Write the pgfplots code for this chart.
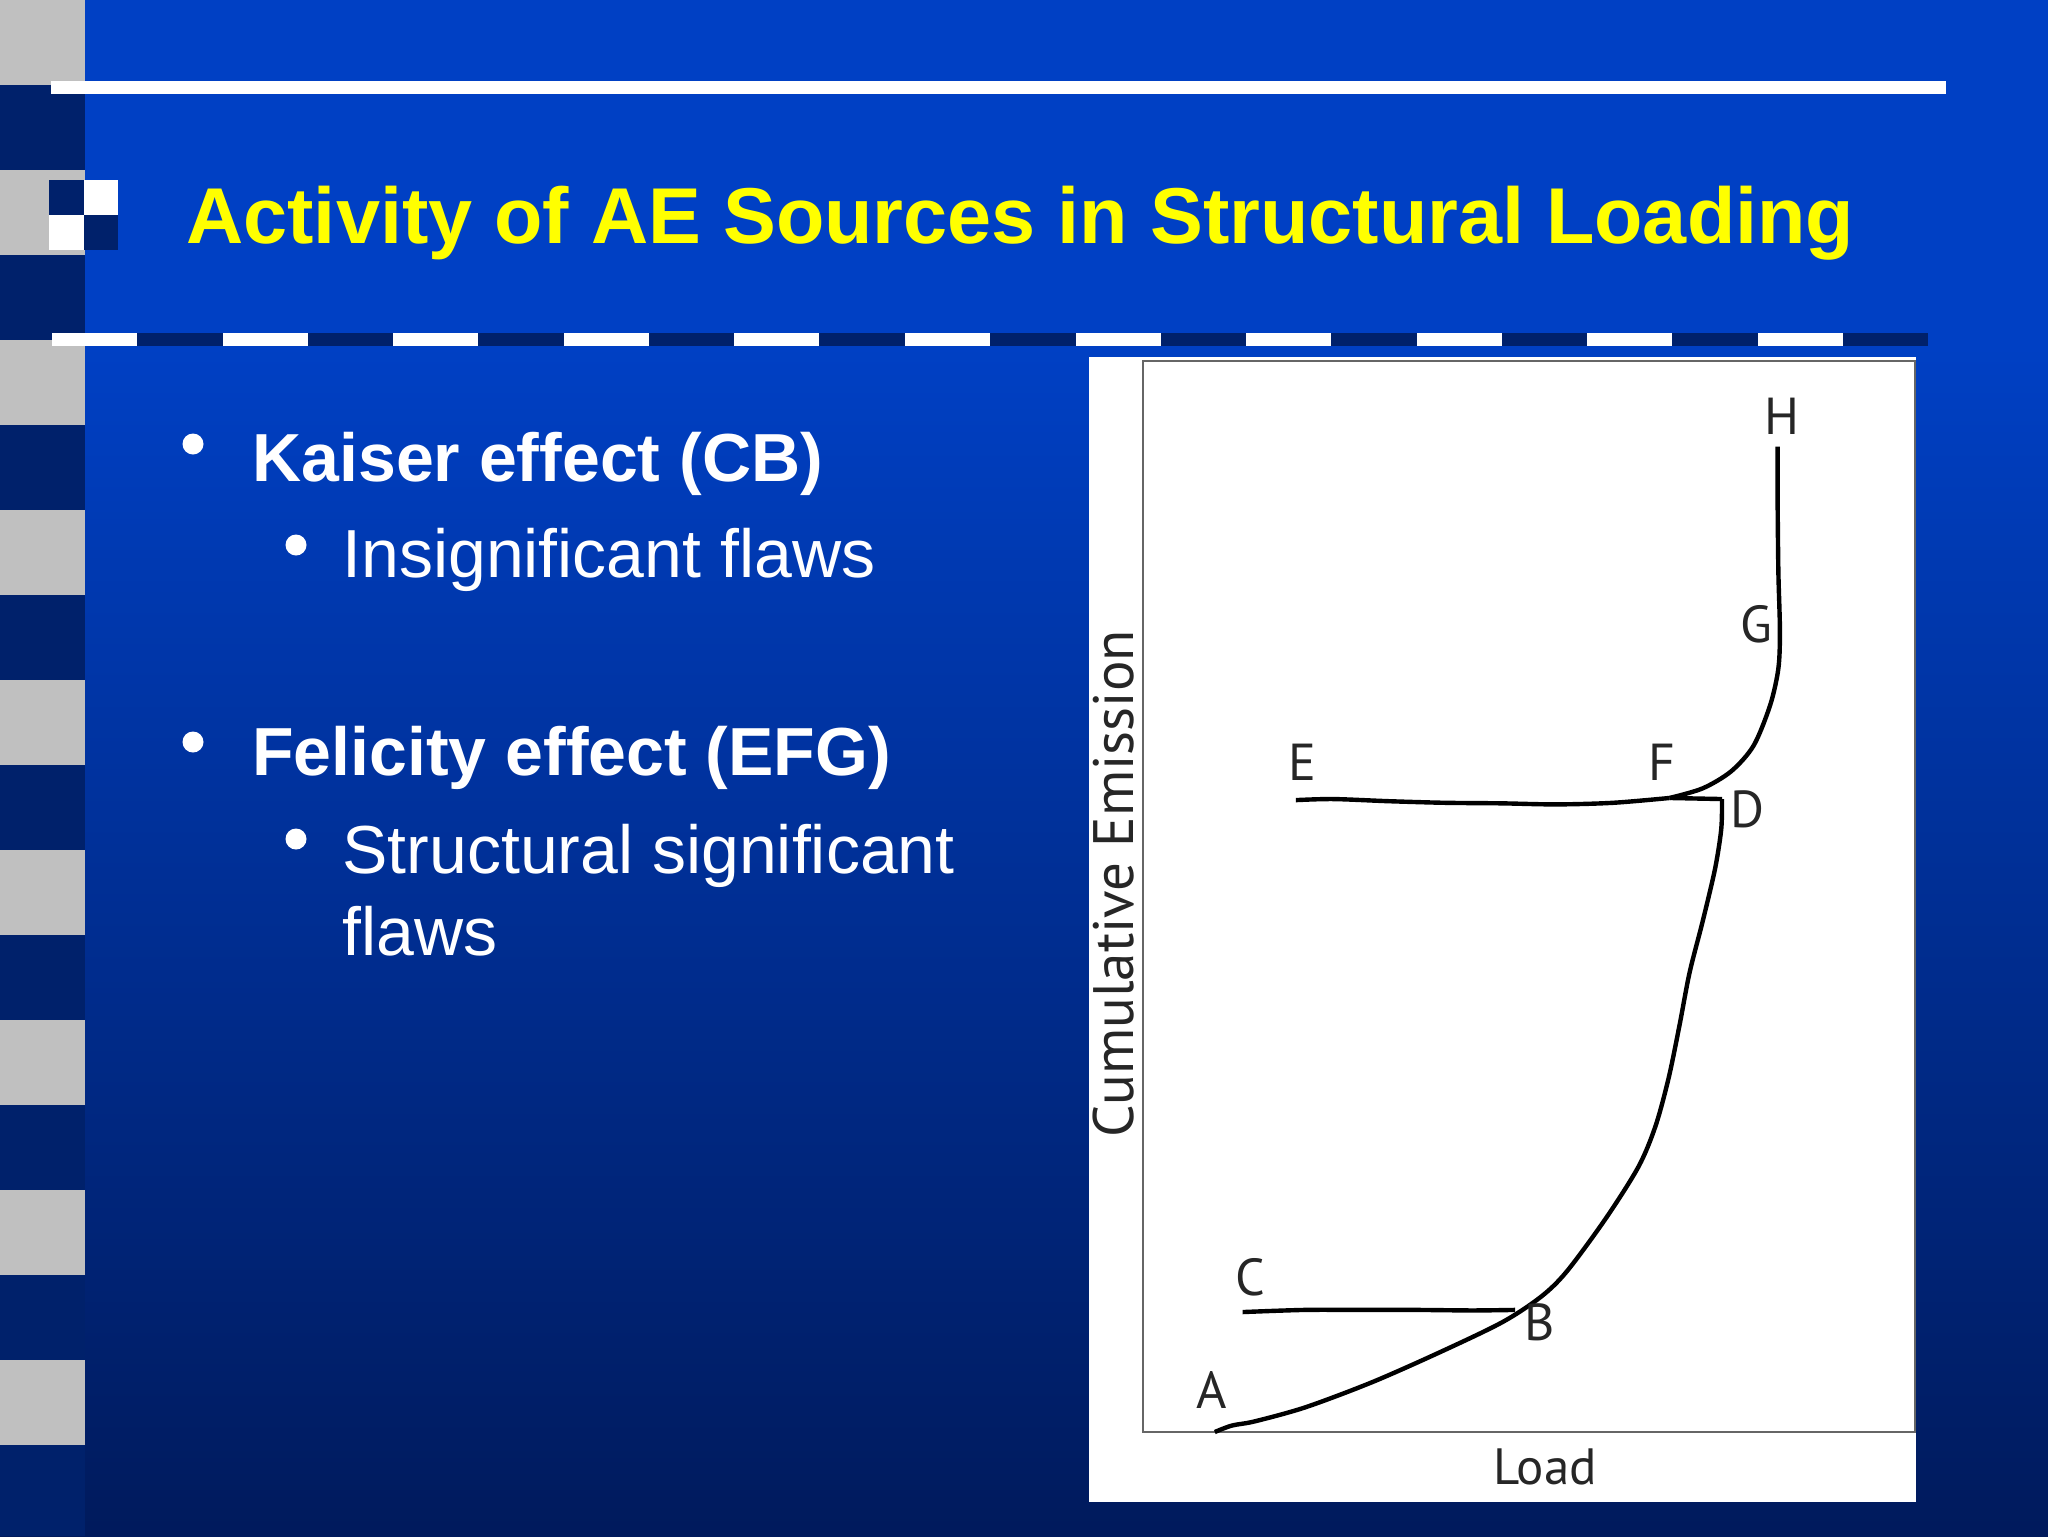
\documentclass[border=0pt]{standalone}
\usepackage{pgfplots}
\pgfplotsset{compat=1.18}
\usepackage{fontspec}
\setmainfont{Liberation Sans}
\newfontfamily\chartfont{PT Sans}
\definecolor{topblue}{HTML}{0040C4}
\definecolor{botblue}{HTML}{001A5C}
\definecolor{navy}{HTML}{00216B}
\definecolor{stripgrey}{HTML}{C0C0C0}
\definecolor{titleyellow}{HTML}{FFFF00}
\begin{document}
\begin{tikzpicture}
\begin{scope}[x=0.5pt,y=-0.5pt]
\useasboundingbox (0,0) rectangle (2048,1536);
\fill[topblue] (0,0) rectangle (2048,346);
\shade[top color=topblue,bottom color=botblue] (0,346) rectangle (2048,1536);
% left strip
\fill[navy] (0,0) rectangle (85,1536);
\foreach \i in {0,...,8} {\fill[stripgrey] (0,{170*\i}) rectangle (85,{170*\i+85});}
% top line
\fill[white] (51,81) rectangle (1946,94);
% checker
\fill[navy] (49,180) rectangle (84,215);
\fill[white] (84,180) rectangle (118,215);
\fill[white] (49,215) rectangle (84,250);
\fill[navy] (84,215) rectangle (118,250);
% dashed line
\fill[navy] (52,333) rectangle (1928,346);
\foreach \i in {0,...,10} {\fill[white] ({52+170.6*\i},333) rectangle ({137+170.6*\i},346);}
% title
\node[anchor=base west, inner sep=0pt, text=titleyellow, font=\fontsize{39.6pt}{48pt}\selectfont\bfseries] at (186,243) {Activity of AE Sources in Structural Loading};
% bullets text
\node[anchor=base west, inner sep=0pt, text=white, font=\fontsize{34pt}{40pt}\selectfont\bfseries] at (252,481) {Kaiser effect (CB)};
\node[anchor=base west, inner sep=0pt, text=white, font=\fontsize{34pt}{40pt}\selectfont] at (342,577) {Insignificant flaws};
\node[anchor=base west, inner sep=0pt, text=white, font=\fontsize{34pt}{40pt}\selectfont\bfseries] at (252,775) {Felicity effect (EFG)};
\node[anchor=base west, inner sep=0pt, text=white, font=\fontsize{34pt}{40pt}\selectfont] at (342,873) {Structural significant};
\node[anchor=base west, inner sep=0pt, text=white, font=\fontsize{34pt}{40pt}\selectfont] at (342,955) {flaws};
\node[circle, fill=white, minimum size=10.5pt, inner sep=0pt] at (193,444) {};
\node[circle, fill=white, minimum size=10.5pt, inner sep=0pt] at (296,545) {};
\node[circle, fill=white, minimum size=10.5pt, inner sep=0pt] at (193,742) {};
\node[circle, fill=white, minimum size=10.5pt, inner sep=0pt] at (296,839) {};
% chart white box
\fill[white] (1089,357) rectangle (1916,1502);
\coordinate (axpos) at (1143,1432);
\end{scope}
\begin{axis}[
  at={(axpos)}, anchor=south west,
  scale only axis, width=386pt, height=535.5pt,
  xmin=0, xmax=100, ymin=0, ymax=100,
  xtick=\empty, ytick=\empty,
  axis line style={draw=black!60, line width=1.2pt},
  clip=false,
  xlabel={Load}, ylabel={Cumulative Emission},
  label style={text=black!85},
  xlabel style={font=\chartfont\fontsize{25.5pt}{30pt}\selectfont, at={(axis description cs:0.521,0)}, anchor=center, yshift=-17.5pt},
  ylabel style={font=\chartfont\fontsize{28.5pt}{32pt}\selectfont, at={(axis description cs:0,0.512)}, anchor=center, yshift=14.5pt},
]
% A - B - D
\addplot[black, line width=2.2pt, smooth, tension=0.5] coordinates {
(9.3,0.0) (11.5,0.6) (14.5,1.0) (21.0,2.3) (29.5,4.6) (38.0,7.3) (46.4,10.2)
(51.5,12.6) (54.9,15.0) (60.0,20.0) (64.2,24.8) (66.4,28.6) (68.1,33.1) (69.5,38.0) (70.8,42.9)
(72.5,47.7) (74.1,52.6) (74.9,56.3) (75.0,59.1)
};
% D - F short horizontal
\addplot[black, line width=2.2pt] coordinates {(75.0,59.1) (68.2,59.2)};
% E - F
\addplot[black, line width=2.2pt, smooth, tension=0.5] coordinates {
(19.8,59.0) (24.6,59.1) (31.8,58.9) (39.1,58.75) (46.4,58.7) (53.6,58.6) (60.9,58.75) (68.2,59.2)
};
% F - G - H
\addplot[black, line width=2.2pt, smooth, tension=0.5] coordinates {
(68.2,59.2) (72.5,60.1) (76.2,61.7) (79.1,64.1) (81.25,67.9) (82.3,71.3) (82.5,74.8) (82.3,80.3) (82.2,87.2) (82.2,92.0)
};
% C - B
\addplot[black, line width=2.2pt, smooth, tension=0.5] coordinates {
(12.9,11.2) (20.9,11.4) (28.2,11.4) (35.5,11.4) (42.7,11.35) (48.2,11.4)
};
\begin{scope}[every node/.style={font=\chartfont\fontsize{26pt}{30pt}\selectfont, text=black!85}]
\node at (axis cs:82.7,94.8) {H};
\node at (axis cs:79.4,75.4) {G};
\node at (axis cs:20.6,62.5) {E};
\node at (axis cs:67.2,62.5) {F};
\node at (axis cs:78.3,58.1) {D};
\node at (axis cs:13.9,14.4) {C};
\node at (axis cs:51.4,10.2) {B};
\node at (axis cs:8.9,3.9) {A};
\end{scope}
\end{axis}
\end{tikzpicture}
\end{document}
